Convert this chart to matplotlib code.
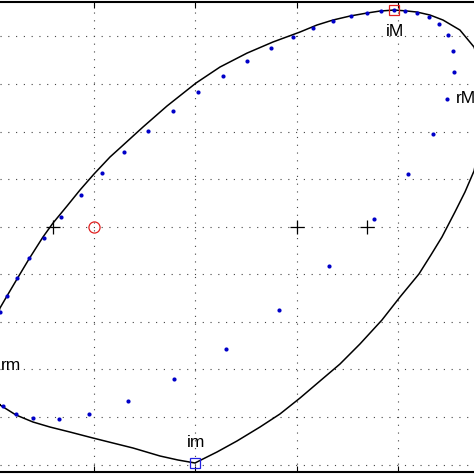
import matplotlib.pyplot as plt

# closed model curve (goes a bit past the visible window on the left and right)
curve_x = [0.073, 0.231, 0.398, 0.566, 0.763, 0.990, 1.187, 1.385, 1.651, 1.828,
           1.996, 2.213, 2.410, 2.637, 2.834, 3.032, 3.229, 3.426, 3.623, 3.840,
           4.018, 4.205, 4.323, 4.432, 4.560, 4.659, 4.748, 4.82, 4.85, 4.82,
           4.748, 4.609, 4.442, 4.314, 4.185, 4.067, 3.959, 3.820, 3.692, 3.525,
           3.357, 3.199, 3.032, 2.765, 2.509, 2.243, 2.006, 1.720, 1.483, 1.256,
           1.158, 1.000, 0.862, 0.734, 0.596, 0.497, 0.359, 0.241, 0.142, 0.073,
           0.01, -0.01, 0.02, 0.073]
curve_y = [1.251, 1.041, 0.894, 0.788, 0.683, 0.557, 0.452, 0.347, 0.179, 0.095,
           0.032, 0.263, 0.494, 0.788, 1.062, 1.398, 1.756, 2.113, 2.534, 3.038,
           3.522, 4.006, 4.405, 4.784, 5.309, 5.730, 6.171, 6.9, 7.6, 8.3,
           8.779, 9.136, 9.346, 9.451, 9.514, 9.540, 9.556, 9.535, 9.493, 9.430,
           9.346, 9.241, 9.094, 8.884, 8.650, 8.358, 8.021, 7.538, 7.096, 6.655,
           6.466, 6.108, 5.772, 5.435, 5.078, 4.784, 4.321, 3.901, 3.544, 3.291,
           2.83, 2.20, 1.46, 1.251]

# measured points
pts_x = [0.10, 0.23, 0.40, 0.65, 0.95, 1.34, 1.79, 2.30, 2.82, 3.32, 3.76, 4.10,
         4.34, 4.48, 4.55, 4.54, 4.49, 4.40, 4.30, 4.19, 4.07, 3.96, 3.83, 3.69,
         3.53, 3.36, 3.16, 2.96, 2.75, 2.51, 2.27, 2.03, 1.78, 1.53, 1.30, 1.08,
         0.87, 0.67, 0.51, 0.36, 0.24, 0.14, 0.07]
pts_y = [1.23, 1.06, 0.98, 0.96, 1.06, 1.34, 1.80, 2.43, 3.25, 4.17, 5.16, 6.11,
         6.95, 7.69, 8.25, 8.69, 9.03, 9.26, 9.41, 9.49, 9.54, 9.56, 9.54, 9.49,
         9.43, 9.33, 9.18, 8.99, 8.76, 8.48, 8.17, 7.83, 7.43, 7.01, 6.57, 6.13,
         5.67, 5.20, 4.76, 4.34, 3.92, 3.54, 3.21]

iM = (3.96, 9.56)
im = (2.00, 0.03)
center = (1.00, 5.00)
cross_x = [0.60, 3.00, 3.69]
cross_y = [5.00, 5.00, 5.00]

labels = ['iM', 'rM', 'rm', 'im']
label_x = [3.97, 4.57, 0.28, 2.01]
label_y = [9.11, 7.69, 2.09, 0.47]
label_ha = ['center', 'left', 'right', 'center']

plt.rcParams['font.family'] = ['Liberation Sans', 'DejaVu Sans']

fig = plt.figure(figsize=(4.74, 4.74), dpi=100)
ax = fig.add_axes([0.0, 0.00527, 1.0, 0.9905])

ax.plot(curve_x, curve_y, color='black', lw=1.1, zorder=3)
ax.plot(pts_x, pts_y, 'o', color='#0000c8', ms=3, mec='none', zorder=4)
ax.plot(*iM, 's', ms=7, mfc='none', mec='#e02020', mew=0.9, zorder=5)
ax.plot(*im, 's', ms=7, mfc='none', mec='#2020e0', mew=0.9, zorder=5)
ax.plot(*center, 'o', ms=8, mfc='none', mec='#e02020', mew=0.9, zorder=5)
ax.plot(cross_x, cross_y, '+', color='black', ms=10, mew=0.9, zorder=5)

for t, x, y, ha in zip(labels, label_x, label_y, label_ha):
    ax.text(x, y, t, ha=ha, va='center', fontsize=12.5)

ax.set_xlim(0.073, 4.748)
ax.set_ylim(-0.147, 9.725)
ax.set_xticks([1, 2, 3, 4])
ax.set_yticks(range(10))
ax.tick_params(direction='in', length=4, top=True, bottom=True, left=False,
               right=False, labelbottom=False, labelleft=False)
ax.grid(True, color='#444444', linestyle=(0, (1, 6)), lw=0.8)
ax.spines['left'].set_visible(False)
ax.spines['right'].set_visible(False)
ax.spines['top'].set_linewidth(1.5)
ax.spines['bottom'].set_linewidth(1.5)

plt.savefig('out.png', dpi=100)
